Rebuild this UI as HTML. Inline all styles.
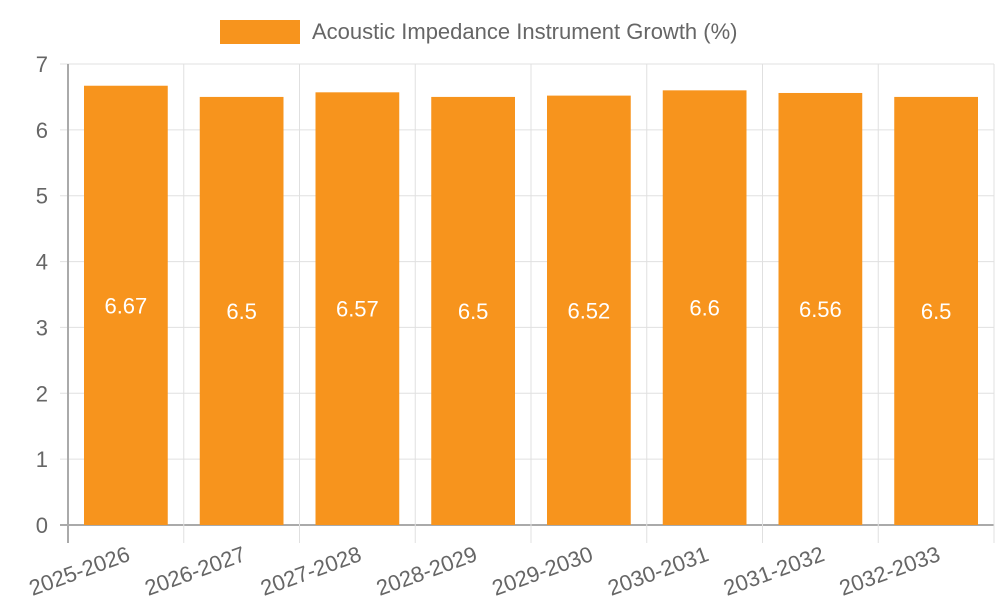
<!DOCTYPE html>
<html><head><meta charset="utf-8"><style>
body{margin:0;background:#fff;}
svg{display:block;font-family:"Liberation Sans",sans-serif;}
</style></head><body>
<svg id="chart" width="1000" height="600">
<g>
<rect x="220" y="20" width="80" height="24" fill="#f7941d"></rect>
<text x="312" y="39" font-size="22" fill="#666">Acoustic Impedance Instrument Growth (%)</text>
</g>
<g id="grid"></g><g id="bars"></g><g id="axes"></g>
</svg>
<script>
const categories=["2025-2026","2026-2027","2027-2028","2028-2029","2029-2030","2030-2031","2031-2032","2032-2033"];
const values=[6.67,6.5,6.57,6.5,6.52,6.6,6.56,6.5];
const yTicks=[0,1,2,3,4,5,6,7];
const NS="http://www.w3.org/2000/svg";
const L=68,R=994,T=64,B=525,yMax=7;
const bw=(R-L)/categories.length;
const y=v=>B-(v/yMax)*(B-T);
const x=i=>L+i*bw;
function mk(t,a,p){const e=document.createElementNS(NS,t);for(const k in a)e.setAttribute(k,a[k]);p.appendChild(e);return e;}
const grid=document.getElementById('grid'),bars=document.getElementById('bars'),axes=document.getElementById('axes');
yTicks.forEach(v=>{
 const l=mk('line',{x1:L-8,x2:R,y1:y(v),y2:y(v),stroke:v===0?'#aaa':'#e0e0e0','stroke-width':v===0?2:1},grid);
 
 
 const t=mk('text',{x:L-20,y:y(v)+8,'text-anchor':'end','font-size':22,fill:'#666'},axes);
 t.textContent=v;
 
 
});
for(let i=0;i<=categories.length;i++){
 const l=mk('line',{x1:x(i),x2:x(i),y1:T,y2:B+18,stroke:i===0?'#aaa':'#e0e0e0','stroke-width':i===0?2:1},grid);
 
 
}
categories.forEach((c,i)=>{
 const pad=16;
 const r=mk('rect',{x:x(i)+pad,y:y(values[i]),width:bw-2*pad,height:B-y(values[i]),fill:'#f7941d'},bars);
 
 
 const cx=x(i)+bw/2;
 const vt=mk('text',{x:cx,y:(y(values[i])+B)/2+8,'text-anchor':'middle','font-size':22,fill:'#fff'},bars);
 vt.textContent=values[i];
 
 
 const tx=cx,ty=B+20;
 const t=mk('text',{x:tx,y:ty,'text-anchor':'end','font-size':22,fill:'#666',transform:`rotate(-20 ${tx} ${ty}) translate(0 16)`},axes);
 t.textContent=c;
 
 
});
</script>
</body></html>
